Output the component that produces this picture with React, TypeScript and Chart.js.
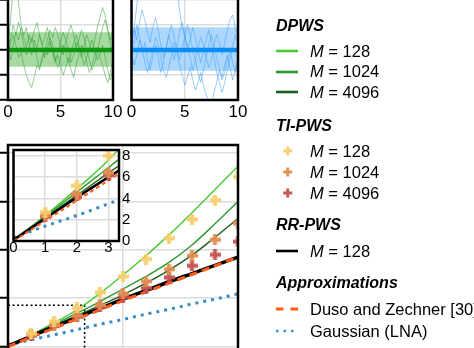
import React, { useEffect, useRef } from 'react';
import { Chart, registerables } from 'chart.js';

Chart.register(...registerables);

const FONT = '"Liberation Sans", Arial, Helvetica, sans-serif';
Chart.defaults.font.family = FONT;
Chart.defaults.color = '#000';

// ---------- top panels: time axis and sample trajectories ----------
const TIME = [0, 0.25, 0.5, 0.75, 1, 1.25, 1.5, 1.75, 2, 2.25, 2.5, 2.75, 3, 3.25, 3.5, 3.75, 4, 4.25, 4.5, 4.75, 5, 5.25, 5.5, 5.75, 6, 6.25, 6.5, 6.75, 7, 7.25, 7.5, 7.75, 8, 8.25, 8.5, 8.75, 9, 9.25, 9.5, 9.75, 10];
const TIME_ENDS = [0, 10];
const TOP_X_TICKS = [0, 5, 10];
const TOP_Y_TICKS = [-2, -1, 0, 1, 2];

const GREEN_TRAJ_1 = [0.3, 1.2, 2.6, 2.8, 1.9, 1.0, 0.6, 0.9, 0.3, -0.2, 0.4, 0.1, 0.6, 0.2, -0.3, 0.1, 0.5, 0.2, -0.4, -0.1, 0.3, 0.7, 0.4, 0.0, -0.5, -0.2, 0.3, 0.1, -0.3, 0.2, 0.6, 0.3, -0.1, 0.4, 0.9, 1.3, 1.7, 1.4, 0.8, 0.2, -0.1];
const GREEN_TRAJ_2 = [-0.2, 0.3, 0.6, 0.2, -0.3, -0.1, -0.6, -1.0, -1.3, -1.5, -1.1, -0.6, -0.8, -0.3, 0.1, -0.2, 0.3, 0.0, -0.4, -0.7, -0.3, 0.2, -0.1, -0.5, -0.2, 0.3, 0.6, 0.2, -0.2, -0.6, -0.3, 0.1, 0.4, 0.0, -0.4, -0.2, 0.2, -0.3, -0.8, -1.2, -0.7];
const GREEN_TRAJ_3 = [0.1, -0.4, 0.2, 0.7, 0.4, 0.9, 0.5, 0.1, 0.6, 0.3, 0.8, 1.1, 0.6, 0.2, 0.5, 0.9, 0.4, -0.1, -0.5, -0.2, -0.6, -1.0, -0.7, -0.3, -0.8, -1.1, -0.6, -0.2, 0.2, -0.1, -0.5, -0.9, -0.6, -0.2, 0.1, -0.3, -0.6, -1.0, -1.3, -0.9, -0.4];
const GREEN_TRAJ_4 = [-0.1, 0.5, 1.0, 0.6, 1.1, 0.7, 0.2, -0.2, 0.1, 0.5, 0.2, -0.3, -0.7, -0.4, 0.0, 0.4, 0.8, 0.5, 0.9, 0.6, 0.2, -0.2, 0.3, 0.7, 1.0, 0.6, 0.1, 0.4, 0.8, 0.5, 0.0, -0.4, -0.8, -0.5, -0.1, 0.4, 0.9, 1.2, 0.8, 0.4, 0.7];
const GREEN_MEAN = [0, 0];
const GREEN_BAND = [-0.67, 0.71];

const BLUE_TRAJ_1 = [0.2, 0.9, 1.8, 2.6, 3.0, 2.7, 2.2, 2.9, 3.2, 2.6, 2.1, 2.5, 3.0, 2.7, 2.3, 2.8, 3.1, 2.5, 1.6, 0.9, 0.5, 1.0, 0.6, 0.0, -0.4, 0.1, 0.5, 0.2, -0.3, -0.7, -0.4, 0.2, 0.6, 0.3, -0.2, 0.3, 0.8, 1.2, 1.4, 0.9, 0.5];
const BLUE_TRAJ_2 = [-0.1, -0.6, -0.2, 0.4, 0.1, -0.5, -0.9, -0.5, 0.0, 0.5, 0.2, -0.3, -0.8, -1.1, -0.7, -0.2, 0.3, -0.1, -0.6, -1.0, -1.4, -1.1, -0.7, -1.2, -1.6, -1.3, -0.9, -1.4, -1.8, -2.0, -2.2, -1.7, -1.3, -0.8, -1.2, -0.9, -0.4, 0.0, -0.5, -0.9, -0.4];
const BLUE_TRAJ_3 = [0.3, 0.8, 0.4, 1.1, 1.6, 1.2, 0.7, 0.3, 0.9, 1.3, 0.8, 0.2, -0.3, 0.1, 0.6, 1.0, 0.5, 0.1, -0.4, 0.0, 0.5, 0.2, -0.3, -0.8, -0.4, -0.9, -1.3, -0.8, -0.3, 0.2, 0.6, 0.2, -0.3, -0.7, -1.1, -0.6, -0.2, -0.7, -1.2, -0.8, -0.3];
const BLUE_TRAJ_4 = [-0.2, 0.4, 1.0, 0.5, -0.1, 0.3, -0.4, -0.8, -0.3, 0.2, -0.3, -0.9, -0.5, 0.1, 0.6, 0.2, -0.4, 0.1, 0.7, 1.1, 0.6, 0.0, 0.4, 0.9, 0.5, 0.0, -0.5, -0.1, 0.4, 0.8, 0.3, -0.3, -0.9, -1.3, -1.7, -1.3, -0.8, -0.3, 0.2, 0.6, 0.2];
const BLUE_MEAN = [0, 0];
const BLUE_BAND = [-0.83, 0.91];

// ---------- bottom panel ----------
const X_LINE = [0, 1, 2, 3, 4, 5, 6, 7, 8, 9, 10];
const DPWS_128 = [0.1, 2.4, 4.9, 7.6, 11.0, 14.8, 18.8, 23.1, 27.7, 32.5, 37.3];
const DPWS_1024 = [0.1, 2.3, 4.6, 6.9, 9.3, 11.9, 14.5, 17.4, 21.0, 25.4, 30.0];
const DPWS_4096 = [0.1, 2.2, 4.3, 6.4, 8.5, 10.7, 13.1, 15.8, 18.9, 22.6, 26.5];
const RR_PWS_128 = [0.1, 2.1, 4.1, 6.0, 7.9, 9.8, 11.6, 13.4, 15.1, 16.8, 18.5];
const DUSO_ZECHNER = [0.0, 1.9, 3.8, 5.7, 7.6, 9.5, 11.3, 13.1, 14.9, 16.7, 18.5];
const GAUSSIAN_LNA = [0.3, 1.4, 2.4, 3.5, 4.6, 5.6, 6.7, 7.7, 8.8, 9.8, 10.9];

const X_TI = [1, 2, 3, 4, 5, 6, 7, 8, 9, 10];
const TI_PWS_128 = [2.7, 5.2, 8.0, 11.2, 14.5, 18.1, 22.4, 26.3, 30.3, 35.1];
const TI_PWS_1024 = [2.4, 4.4, 6.4, 8.6, 10.9, 13.5, 16.0, 18.8, 22.1, 25.5];
const TI_PWS_4096 = [2.3, 4.3, 6.2, 8.2, 10.2, 12.1, 14.3, 16.7, 19.0, 21.7];

const MAIN_X_TICKS = [0, 5, 10];
const MAIN_Y_TICKS = [0, 10, 20, 30, 40];

const INSET_X = [0, 3.33];
const INSET_Y = [0, 8.55];
const INSET_X_TICKS = [0, 1, 2, 3];
const INSET_Y_TICKS = [0, 2, 4, 6, 8];

const C = {
  dpws128: '#46cc2e',
  dpws1024: '#2c9a2c',
  dpws4096: '#1b5e1b',
  ti128: 'rgba(247,206,108,0.95)',
  ti1024: 'rgba(226,140,78,0.95)',
  ti4096: 'rgba(196,80,80,0.95)',
  rr: '#000000',
  duso: '#ff5a1a',
  gauss: '#3a8cc6',
};

const GRID = { color: '#dcdcdc', lineWidth: 1.5 };

const pts = (xs: number[], ys: number[]) => ys.map((y, i) => ({ x: xs[i], y }));

function plusCanvas(color: string, size: number, arm: number) {
  const c = document.createElement('canvas');
  c.width = size;
  c.height = size;
  const g = c.getContext('2d')!;
  const a = (size - arm) / 2;
  const b = a + arm;
  g.beginPath();
  g.moveTo(a, 0); g.lineTo(b, 0); g.lineTo(b, a); g.lineTo(size, a); g.lineTo(size, b);
  g.lineTo(b, b); g.lineTo(b, size); g.lineTo(a, size); g.lineTo(a, b); g.lineTo(0, b);
  g.lineTo(0, a); g.lineTo(a, a); g.closePath();
  g.fillStyle = color;
  g.fill();
  return c;
}

function framePlugin(fill?: string) {
  return {
    id: 'frame',
    beforeDraw(chart: any) {
      if (!fill) return;
      const { ctx, chartArea: a } = chart;
      ctx.save();
      ctx.fillStyle = fill;
      ctx.fillRect(a.left, a.top, a.right - a.left, a.bottom - a.top);
      ctx.restore();
    },
    afterDraw(chart: any) {
      const { ctx, chartArea: a } = chart;
      ctx.save();
      ctx.strokeStyle = '#000';
      ctx.lineWidth = 2.5;
      ctx.strokeRect(a.left, a.top, a.right - a.left, a.bottom - a.top);
      ctx.restore();
    },
  };
}

const setTicks = (vals: number[]) => (s: any) => {
  s.ticks = vals.map((v) => ({ value: v }));
};

const BASE = {
  animation: false as const,
  responsive: false,
  events: [] as any[],
  plugins: { legend: { display: false }, tooltip: { enabled: false } },
};

function topPanel(trajs: number[][], trajColor: string, mean: number[], band: number[], bandColor: string, meanColor: string, yTicks: boolean) {
  return {
    type: 'line',
    data: {
      datasets: [
        { data: pts(TIME_ENDS, mean), borderColor: meanColor, borderWidth: 4.5, pointRadius: 0, order: 0, clip: 0 },
        ...trajs.map((t) => ({ data: pts(TIME, t), borderColor: trajColor, borderWidth: 1, pointRadius: 0, order: 1, clip: 0 })),
        { data: pts(TIME_ENDS, [band[1], band[1]]), borderWidth: 0, borderColor: 'transparent', pointRadius: 0, fill: '+1', backgroundColor: bandColor, order: 2 },
        { data: pts(TIME_ENDS, [band[0], band[0]]), borderWidth: 0, borderColor: 'transparent', pointRadius: 0, fill: false, order: 3 },
      ],
    },
    options: {
      ...BASE,
      layout: { padding: { left: 0, right: 17, top: 0, bottom: 0 } },
      scales: {
        x: {
          type: 'linear', min: 0, max: 10,
          ticks: { font: { size: 17 }, padding: 2, maxRotation: 0, color: '#000' },
          grid: { ...GRID, drawTicks: false },
          border: { display: false },
          afterBuildTicks: setTicks(TOP_X_TICKS),
          afterFit: (s: any) => { s.height = 30; },
        },
        y: {
          type: 'linear', min: -2, max: 2.4,
          ticks: { display: false },
          grid: { ...GRID, drawTicks: yTicks, tickLength: 8, tickColor: '#000', tickWidth: 2 },
          border: { display: false },
          afterBuildTicks: setTicks(TOP_Y_TICKS),
          afterFit: (s: any) => { s.width = yTicks ? 8 : 8.5; },
        },
      },
    },
    plugins: [framePlugin()],
  };
}

function curveSets(inset: boolean) {
  const plusSize = 11;
  const arm = 4;
  const common = { pointRadius: 0, cubicInterpolationMode: 'monotone', clip: 0, fill: false };
  return [
    { data: pts(X_TI, TI_PWS_128), showLine: false, pointStyle: plusCanvas(C.ti128, plusSize, arm), pointRadius: 5.5, order: 0, clip: 0 },
    { data: pts(X_TI, TI_PWS_1024), showLine: false, pointStyle: plusCanvas(C.ti1024, plusSize, arm), pointRadius: 5.5, order: 1, clip: 0 },
    { data: pts(X_TI, TI_PWS_4096), showLine: false, pointStyle: plusCanvas(C.ti4096, plusSize, arm), pointRadius: 5.5, order: 2, clip: 0 },
    { ...common, data: pts(X_LINE, DUSO_ZECHNER), borderColor: C.duso, borderWidth: inset ? 2 : 3, borderDash: inset ? [4, 3] : [8, 5], order: 3 },
    { ...common, data: pts(X_LINE, RR_PWS_128), borderColor: C.rr, borderWidth: inset ? 2.5 : 3.5, order: 4 },
    { ...common, data: pts(X_LINE, GAUSSIAN_LNA), borderColor: C.gauss, borderWidth: 3, borderDash: [3, 5], order: 5 },
    { ...common, data: pts(X_LINE, DPWS_4096), borderColor: C.dpws4096, borderWidth: 1.4, order: 6 },
    { ...common, data: pts(X_LINE, DPWS_1024), borderColor: C.dpws1024, borderWidth: 1.4, order: 7 },
    { ...common, data: pts(X_LINE, DPWS_128), borderColor: C.dpws128, borderWidth: 1.4, order: 8 },
  ];
}

function mainPanel() {
  return {
    type: 'line',
    data: {
      datasets: [
        ...curveSets(false),
        {
          data: [
            { x: INSET_X[0], y: INSET_Y[1] },
            { x: INSET_X[1], y: INSET_Y[1] },
            { x: INSET_X[1], y: -2 },
          ],
          borderColor: '#000', borderWidth: 1.5, borderDash: [2, 2.5], pointRadius: 0, order: 9, clip: 0,
        },
      ],
    },
    options: {
      ...BASE,
      layout: { padding: { left: 0, right: 12, top: 10, bottom: 0 } },
      scales: {
        x: {
          type: 'linear', min: 0, max: 10,
          ticks: { display: false },
          grid: { ...GRID, drawTicks: false },
          border: { display: false },
          afterBuildTicks: setTicks(MAIN_X_TICKS),
          afterFit: (s: any) => { s.height = 10; },
        },
        y: {
          type: 'linear', min: -0.93, max: 41.7,
          ticks: { display: false },
          grid: { ...GRID, drawTicks: true, tickLength: 8, tickColor: '#000', tickWidth: 2 },
          border: { display: false },
          afterBuildTicks: setTicks(MAIN_Y_TICKS),
          afterFit: (s: any) => { s.width = 8; },
        },
      },
    },
    plugins: [framePlugin()],
  };
}

function insetPanel() {
  return {
    type: 'line',
    data: { datasets: curveSets(true) },
    options: {
      ...BASE,
      layout: { padding: { left: 6, right: 0, top: 14, bottom: 0 } },
      scales: {
        x: {
          type: 'linear', min: INSET_X[0], max: INSET_X[1],
          ticks: { font: { size: 15 }, padding: -2, maxRotation: 0, color: '#000' },
          grid: { ...GRID, drawTicks: false },
          border: { display: false },
          afterBuildTicks: setTicks(INSET_X_TICKS),
          afterFit: (s: any) => { s.height = 20; },
        },
        y: {
          type: 'linear', position: 'right', min: INSET_Y[0], max: INSET_Y[1],
          ticks: { font: { size: 15 }, padding: 3, color: '#000' },
          grid: { ...GRID, drawTicks: false },
          border: { display: false },
          afterBuildTicks: setTicks(INSET_Y_TICKS),
          afterFit: (s: any) => { s.width = 16; },
        },
      },
    },
    plugins: [framePlugin('#ffffff')],
  };
}

function ChartCanvas({ left, top, width, height, make }: any) {
  const ref = useRef<HTMLCanvasElement>(null);
  useEffect(() => {
    const chart = new Chart(ref.current as HTMLCanvasElement, make());
    return () => chart.destroy();
  }, []);
  return (
    <canvas
      ref={ref}
      width={width}
      height={height}
      style={{ position: 'absolute', left, top, width, height }}
    />
  );
}

// ---------- legend ----------
function Header({ y, text }: { y: number; text: string }) {
  return (
    <div style={{ position: 'absolute', left: 276, top: y - 10, height: 20, lineHeight: '20px', fontSize: 16, fontWeight: 'bold', fontStyle: 'italic', whiteSpace: 'nowrap' }}>
      {text}
    </div>
  );
}

function Row({ y, symbol, children }: any) {
  return (
    <div style={{ position: 'absolute', left: 276, top: y - 10, height: 20, display: 'flex', alignItems: 'center', whiteSpace: 'nowrap', fontSize: 16.5 }}>
      <svg width={34} height={14} style={{ flex: 'none' }}>{symbol}</svg>
      <span>{children}</span>
    </div>
  );
}

const lineSym = (color: string) => <line x1={0} x2={22} y1={7} y2={7} stroke={color} strokeWidth={2.6} />;
const plusSym = (color: string) => (
  <path d="M10.2,2.5 h3 v3 h3 v3 h-3 v3 h-3 v-3 h-3 v-3 h3 z" fill={color} />
);
const dashSym = (color: string) => <line x1={0} x2={22} y1={7} y2={7} stroke={color} strokeWidth={3} strokeDasharray="7.5 7" />;
const dotSym = (color: string) => <line x1={0} x2={22} y1={7} y2={7} stroke={color} strokeWidth={2.5} strokeDasharray="2.5 5" />;

const M = ({ n }: { n: string }) => (
  <>
    <span style={{ fontStyle: 'italic' }}>M</span> = {n}
  </>
);

export default function App() {
  return (
    <div style={{ position: 'fixed', left: 0, top: 0, width: 474, height: 348, overflow: 'hidden', background: '#fff', fontFamily: FONT, color: '#000' }}>
      <ChartCanvas left={0} top={-10} width={130} height={140}
        make={() => topPanel([GREEN_TRAJ_1, GREEN_TRAJ_2, GREEN_TRAJ_3, GREEN_TRAJ_4], 'rgba(45,160,45,0.5)', GREEN_MEAN, GREEN_BAND, 'rgba(60,170,50,0.45)', '#0f980f', true)} />
      <ChartCanvas left={123} top={-10} width={132} height={140}
        make={() => topPanel([BLUE_TRAJ_1, BLUE_TRAJ_2, BLUE_TRAJ_3, BLUE_TRAJ_4], 'rgba(60,160,250,0.5)', BLUE_MEAN, BLUE_BAND, 'rgba(60,160,250,0.42)', '#0a8cf5', false)} />
      <ChartCanvas left={0} top={135} width={250} height={226} make={mainPanel} />
      <ChartCanvas left={7} top={136} width={128} height={125} make={insetPanel} />

      <Header y={26} text="DPWS" />
      <Row y={51} symbol={lineSym(C.dpws128)}><M n="128" /></Row>
      <Row y={71.5} symbol={lineSym(C.dpws1024)}><M n="1024" /></Row>
      <Row y={92} symbol={lineSym(C.dpws4096)}><M n="4096" /></Row>

      <Header y={126} text="TI-PWS" />
      <Row y={151} symbol={plusSym(C.ti128)}><M n="128" /></Row>
      <Row y={172} symbol={plusSym(C.ti1024)}><M n="1024" /></Row>
      <Row y={193} symbol={plusSym(C.ti4096)}><M n="4096" /></Row>

      <Header y={225} text="RR-PWS" />
      <Row y={251} symbol={lineSym(C.rr)}><M n="128" /></Row>

      <Header y={283} text="Approximations" />
      <Row y={309} symbol={dashSym(C.duso)}>Duso and Zechner [30]</Row>
      <Row y={331} symbol={dotSym(C.gauss)}>Gaussian (LNA)</Row>
    </div>
  );
}
